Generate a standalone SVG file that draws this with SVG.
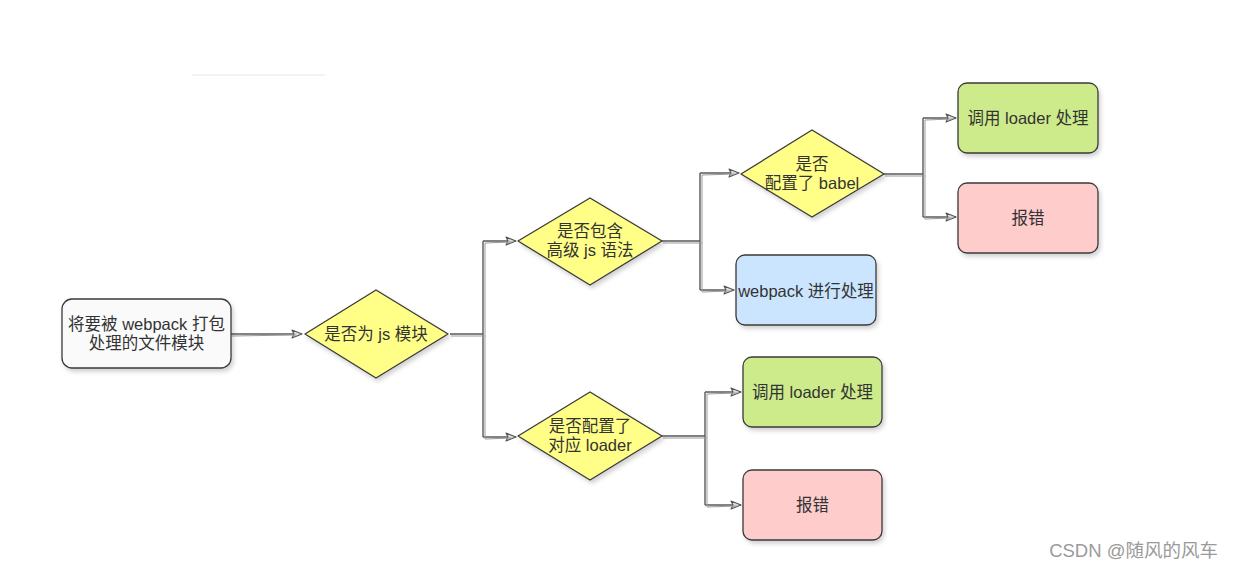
<svg xmlns="http://www.w3.org/2000/svg" width="1234" height="569" viewBox="0 0 1234 569">
<style>
.n{stroke:#3a3a3a;stroke-width:1.3}
.t{font-family:"Liberation Sans","Noto Sans CJK SC",sans-serif;font-size:16.5px;fill:#333;text-anchor:middle}
.c{fill:none;stroke:#5a5a5a;stroke-width:1.4}
.c2{fill:none;stroke:#9a9a9a;stroke-width:1}
</style>
<defs>
<filter id="sh" x="-10%" y="-10%" width="130%" height="140%">
<feDropShadow dx="2" dy="3" stdDeviation="2" flood-color="#000" flood-opacity="0.18"/>
</filter>
<marker id="ar" viewBox="0 0 12 10" refX="11" refY="5" markerWidth="12" markerHeight="10" markerUnits="userSpaceOnUse" orient="auto">
<path d="M1,1 L11,5 L1,9 L3,5 Z" fill="#ddd" stroke="#555" stroke-width="1.1" stroke-linejoin="round"/>
</marker>
</defs>
<rect width="1234" height="569" fill="#fff"/>
<line x1="192" y1="75" x2="325" y2="75" stroke="#f2f2f2" stroke-width="2"/>

<g id="connectors">
<path class="c" d="M231,334 L302,334" marker-end="url(#ar)"/>
<path class="c2" d="M232,336 L296,335"/>
<path class="c" d="M450,334 L483,334 M483,241 L483,437 M483,241 L516,241" marker-end="url(#ar)"/>
<path class="c" d="M483,437 L516,437" marker-end="url(#ar)"/>
<path class="c2" d="M451,336 L485,336 M485,243 L485,439 M485,243 L512,242 M485,439 L512,438"/>
<path class="c" d="M662,241 L700,241 M700,173 L700,290 M700,173 L739,173" marker-end="url(#ar)"/>
<path class="c" d="M700,290 L734,290" marker-end="url(#ar)"/>
<path class="c2" d="M663,243 L702,243 M702,175 L702,292 M702,175 L735,174 M702,292 L730,291"/>
<path class="c" d="M884,174 L923,174 M923,118 L923,217 M923,118 L956,118" marker-end="url(#ar)"/>
<path class="c" d="M923,217 L956,217" marker-end="url(#ar)"/>
<path class="c2" d="M885,176 L925,176 M925,120 L925,219 M925,120 L952,119 M925,219 L952,218"/>
<path class="c" d="M662,436 L705,436 M705,392 L705,505 M705,392 L741,392" marker-end="url(#ar)"/>
<path class="c" d="M705,505 L741,505" marker-end="url(#ar)"/>
<path class="c2" d="M663,438 L707,438 M707,394 L707,507 M707,394 L737,393 M707,507 L737,506"/>
</g>

<g id="start">
<rect class="n" x="62" y="299" width="169" height="69" rx="10" fill="#fafafa" filter="url(#sh)"/>
<text class="t" x="146.5" y="330">将要被 webpack 打包</text>
<text class="t" x="146.5" y="349">处理的文件模块</text>
</g>

<g id="isjs">
<path class="n" d="M376,290 L448,334 L376,378 L305,334 Z" fill="#ffff88" stroke-linejoin="round" filter="url(#sh)"/>
<text class="t" x="376" y="340">是否为 js 模块</text>
</g>

<g id="advanced">
<path class="n" d="M590,198 L662,241 L590,285 L518,241 Z" fill="#ffff88" stroke-linejoin="round" filter="url(#sh)"/>
<text class="t" x="590" y="237">是否包含</text>
<text class="t" x="590" y="256">高级 js 语法</text>
</g>

<g id="babel">
<path class="n" d="M812,130 L884,174 L812,217 L741,174 Z" fill="#ffff88" stroke-linejoin="round" filter="url(#sh)"/>
<text class="t" x="812" y="170">是否</text>
<text class="t" x="812" y="189">配置了 babel</text>
</g>

<g id="loader1">
<rect class="n" x="958" y="83" width="140" height="70" rx="9" fill="#cdeb8b" filter="url(#sh)"/>
<text class="t" x="1028" y="124">调用 loader 处理</text>
</g>

<g id="error1">
<rect class="n" x="958" y="183" width="140" height="70" rx="9" fill="#ffcccc" filter="url(#sh)"/>
<text class="t" x="1028" y="224">报错</text>
</g>

<g id="webpack">
<rect class="n" x="736" y="255" width="140" height="70" rx="9" fill="#cce5ff" filter="url(#sh)"/>
<text class="t" x="806" y="297">webpack 进行处理</text>
</g>

<g id="hasloader">
<path class="n" d="M590,392 L662,436 L590,480 L518,436 Z" fill="#ffff88" stroke-linejoin="round" filter="url(#sh)"/>
<text class="t" x="590" y="432">是否配置了</text>
<text class="t" x="590" y="451">对应 loader</text>
</g>

<g id="loader2">
<rect class="n" x="743" y="357" width="139" height="70" rx="9" fill="#cdeb8b" filter="url(#sh)"/>
<text class="t" x="812.5" y="398">调用 loader 处理</text>
</g>

<g id="error2">
<rect class="n" x="743" y="470" width="139" height="70" rx="9" fill="#ffcccc" filter="url(#sh)"/>
<text class="t" x="812.5" y="511">报错</text>
</g>

<text x="1218" y="557" style="font-family:'Liberation Sans','Noto Sans CJK SC',sans-serif;font-size:18.5px;fill:#9a9a9a;text-anchor:end">CSDN @随风的风车</text>
</svg>
